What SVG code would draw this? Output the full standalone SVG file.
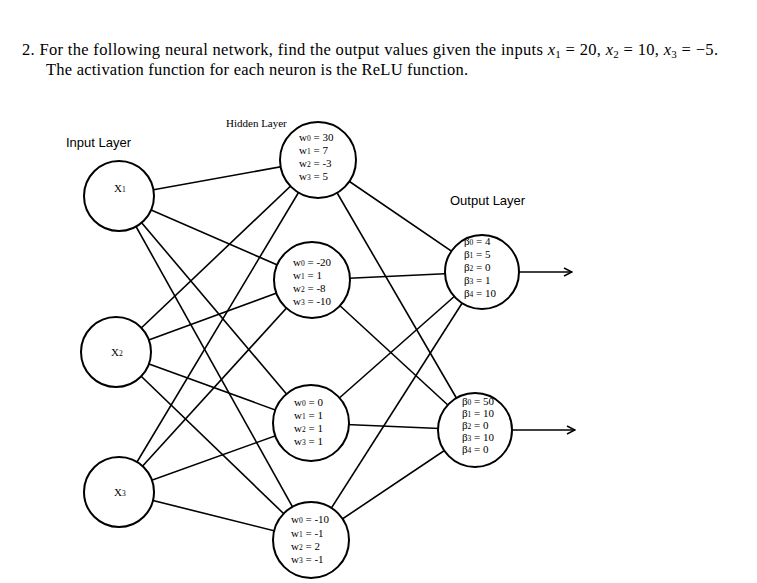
<svg xmlns="http://www.w3.org/2000/svg" width="757" height="583" viewBox="0 0 757 583">
<style>
.n{fill:#fff;stroke:#000;stroke-width:2}
.c line{stroke:#000;stroke-width:1.6}
.t{font-family:"Liberation Serif",serif;font-size:11px}
.s{font-family:"Liberation Sans",sans-serif;font-size:13px}
.h{font-family:"Liberation Serif",serif;font-size:16.5px}
.w{font-family:"Liberation Serif",serif;font-size:11px}
.b{font-size:7.5px}
</style>
<defs><marker id="a" viewBox="0 0 10 10" refX="9" refY="5" markerWidth="10" markerHeight="10" markerUnits="userSpaceOnUse" orient="auto"><path d="M1 1L9 5L1 9" fill="none" stroke="#000" stroke-width="1.4"/></marker></defs>
<rect width="757" height="583" fill="#fff"/>
<text class="h" x="22" y="55" textLength="696" lengthAdjust="spacing">2.  For the following neural network, find the output values given the inputs <tspan font-style="italic">x</tspan><tspan font-size="11" dy="3">1</tspan><tspan dy="-3"> = 20, </tspan><tspan font-style="italic">x</tspan><tspan font-size="11" dy="3">2</tspan><tspan dy="-3"> = 10, </tspan><tspan font-style="italic">x</tspan><tspan font-size="11" dy="3">3</tspan><tspan dy="-3"> = −5.</tspan></text>
<text class="h" x="46" y="75" textLength="422" lengthAdjust="spacing">The activation function for each neuron is the ReLU function.</text>
<text class="s" x="66" y="147">Input Layer</text>
<text class="t" x="226" y="127">Hidden Layer</text>
<text class="s" x="450" y="205">Output Layer</text>
<g class="c" id="connectors">
<line x1="119" y1="196" x2="318" y2="160"/><line x1="119" y1="196" x2="312" y2="280"/><line x1="119" y1="196" x2="311" y2="423"/><line x1="119" y1="196" x2="311" y2="540"/>
<line x1="116" y1="352" x2="318" y2="160"/><line x1="116" y1="352" x2="312" y2="280"/><line x1="116" y1="352" x2="311" y2="423"/><line x1="116" y1="352" x2="311" y2="540"/>
<line x1="119" y1="492" x2="318" y2="160"/><line x1="119" y1="492" x2="312" y2="280"/><line x1="119" y1="492" x2="311" y2="423"/><line x1="119" y1="492" x2="311" y2="540"/>
<line x1="318" y1="160" x2="482" y2="272"/><line x1="318" y1="160" x2="475" y2="430"/>
<line x1="312" y1="280" x2="482" y2="272"/><line x1="312" y1="280" x2="475" y2="430"/>
<line x1="311" y1="423" x2="482" y2="272"/><line x1="311" y1="423" x2="475" y2="430"/>
<line x1="311" y1="540" x2="482" y2="272"/><line x1="311" y1="540" x2="475" y2="430"/>
<line x1="519" y1="272" x2="572" y2="272" marker-end="url(#a)"/>
<line x1="512" y1="430" x2="575" y2="430" marker-end="url(#a)"/>
</g>
<g id="x1"><circle class="n" cx="119" cy="196" r="35"/><text class="w" x="114" y="192">X<tspan class="b">1</tspan></text></g>
<g id="x2"><circle class="n" cx="116" cy="352" r="35"/><text class="w" x="111" y="356">X<tspan class="b">2</tspan></text></g>
<g id="x3"><circle class="n" cx="119" cy="492" r="35"/><text class="w" x="114" y="496">X<tspan class="b">3</tspan></text></g>
<g id="h1"><circle class="n" cx="318" cy="160" r="38"/><text class="w"><tspan x="299" y="141">w<tspan class="b">0</tspan> = 30</tspan><tspan x="299" y="154">w<tspan class="b">1</tspan> = 7</tspan><tspan x="299" y="167">w<tspan class="b">2</tspan> = -3</tspan><tspan x="299" y="180">w<tspan class="b">3</tspan> = 5</tspan></text></g>
<g id="h2"><circle class="n" cx="312" cy="280" r="38"/><text class="w"><tspan x="293" y="266">w<tspan class="b">0</tspan> = -20</tspan><tspan x="293" y="279">w<tspan class="b">1</tspan> = 1</tspan><tspan x="293" y="292">w<tspan class="b">2</tspan> = -8</tspan><tspan x="293" y="305">w<tspan class="b">3</tspan> = -10</tspan></text></g>
<g id="h3"><circle class="n" cx="311" cy="423" r="38"/><text class="w"><tspan x="294" y="406">w<tspan class="b">0</tspan> = 0</tspan><tspan x="294" y="419">w<tspan class="b">1</tspan> = 1</tspan><tspan x="294" y="432">w<tspan class="b">2</tspan> = 1</tspan><tspan x="294" y="445">w<tspan class="b">3</tspan> = 1</tspan></text></g>
<g id="h4"><circle class="n" cx="311" cy="540" r="38"/><text class="w"><tspan x="291" y="523">w<tspan class="b">0</tspan> = -10</tspan><tspan x="291" y="537">w<tspan class="b">1</tspan> = -1</tspan><tspan x="291" y="550">w<tspan class="b">2</tspan> = 2</tspan><tspan x="291" y="563">w<tspan class="b">3</tspan> = -1</tspan></text></g>
<g id="o1"><circle class="n" cx="482" cy="272" r="37"/><text class="w"><tspan x="464" y="245">β<tspan class="b">0</tspan> = 4</tspan><tspan x="464" y="258">β<tspan class="b">1</tspan> = 5</tspan><tspan x="464" y="271">β<tspan class="b">2</tspan> = 0</tspan><tspan x="464" y="284">β<tspan class="b">3</tspan> = 1</tspan><tspan x="464" y="297">β<tspan class="b">4</tspan> = 10</tspan></text></g>
<g id="o2"><circle class="n" cx="475" cy="430" r="37"/><text class="w" font-size="10"><tspan x="462" y="405">β<tspan class="b">0</tspan> = 50</tspan><tspan x="462" y="417">β<tspan class="b">1</tspan> = 10</tspan><tspan x="462" y="429">β<tspan class="b">2</tspan> = 0</tspan><tspan x="462" y="441">β<tspan class="b">3</tspan> = 10</tspan><tspan x="462" y="453">β<tspan class="b">4</tspan> = 0</tspan></text></g>
</svg>
